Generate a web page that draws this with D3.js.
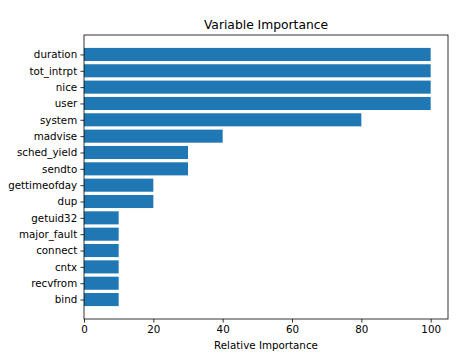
<!DOCTYPE html>
<html>
<head>
<meta charset="utf-8">
<script src="https://cdn.jsdelivr.net/npm/d3@7"></script>
<style>
  body { margin: 0; background: #fff; }
  svg { display: block; }
  text { font-family: "DejaVu Sans", sans-serif; fill: #000; }
</style>
</head>
<body>
<script>
const features = ["duration", "tot_intrpt", "nice", "user", "system", "madvise", "sched_yield", "sendto",
                  "gettimeofday", "dup", "getuid32", "major_fault", "connect", "cntx", "recvfrom", "bind"];
const importance = [100, 100, 100, 100, 80, 40, 30, 30, 20, 20, 10, 10, 10, 10, 10, 10];
const xTicks = [0, 20, 40, 60, 80, 100];
const title = "Variable Importance";
const xLabel = "Relative Importance";

(function () {
const W = 474, H = 355;
const mLeft = 84, mRight = 448, mTop = 35, mBottom = 319;

const svg = d3.select("body").append("svg").attr("width", W).attr("height", H);

const n = features.length;
// bars at positions 0..n-1 from bottom (last feature at 0), height 0.8, margins 5%
const lo = -0.4, hi = (n - 1) + 0.4, m = (hi - lo) * 0.05;
const y = d3.scaleLinear().domain([lo - m, hi + m]).range([mBottom, mTop]);
const x = d3.scaleLinear().domain([0, 105]).range([mLeft, mRight]);

const data = features.map((f, i) => ({ name: f, value: importance[i], pos: n - 1 - i }));

svg.append("g").selectAll("rect").data(data).enter().append("rect")
  .attr("x", x(0))
  .attr("y", d => y(d.pos + 0.4))
  .attr("width", d => x(d.value) - x(0))
  .attr("height", d => y(d.pos - 0.4) - y(d.pos + 0.4))
  .attr("fill", "#1f77b4");

// frame
svg.append("rect").attr("x", mLeft).attr("y", mTop).attr("width", mRight - mLeft).attr("height", mBottom - mTop)
  .attr("fill", "none").attr("stroke", "#000").attr("stroke-width", 0.8);

// x axis
const xAxis = svg.append("g").attr("transform", `translate(0,${mBottom})`)
  .call(d3.axisBottom(x).tickValues(xTicks).tickSize(3.6).tickPadding(3.2).tickFormat(d3.format("d")));
xAxis.select(".domain").remove();
xAxis.selectAll("line").attr("stroke", "#000").attr("stroke-width", 0.8);
xAxis.selectAll("text").attr("font-size", 10.3).attr("font-family", "DejaVu Sans");

// y axis
const yAxis = svg.append("g").attr("transform", `translate(${mLeft},0)`)
  .call(d3.axisLeft(y).tickValues(data.map(d => d.pos)).tickSize(3.6).tickPadding(3.2)
        .tickFormat(p => features[n - 1 - p]));
yAxis.select(".domain").remove();
yAxis.selectAll("line").attr("stroke", "#000").attr("stroke-width", 0.8);
yAxis.selectAll("text").attr("font-size", 10.3).attr("font-family", "DejaVu Sans");

// title
svg.append("text").attr("x", (mLeft + mRight) / 2).attr("y", 29)
  .attr("text-anchor", "middle").attr("font-size", 12.3).text(title);

// x label
svg.append("text").attr("x", (mLeft + mRight) / 2).attr("y", 349)
  .attr("text-anchor", "middle").attr("font-size", 10.3).text(xLabel);
})();
</script>
</body>
</html>
